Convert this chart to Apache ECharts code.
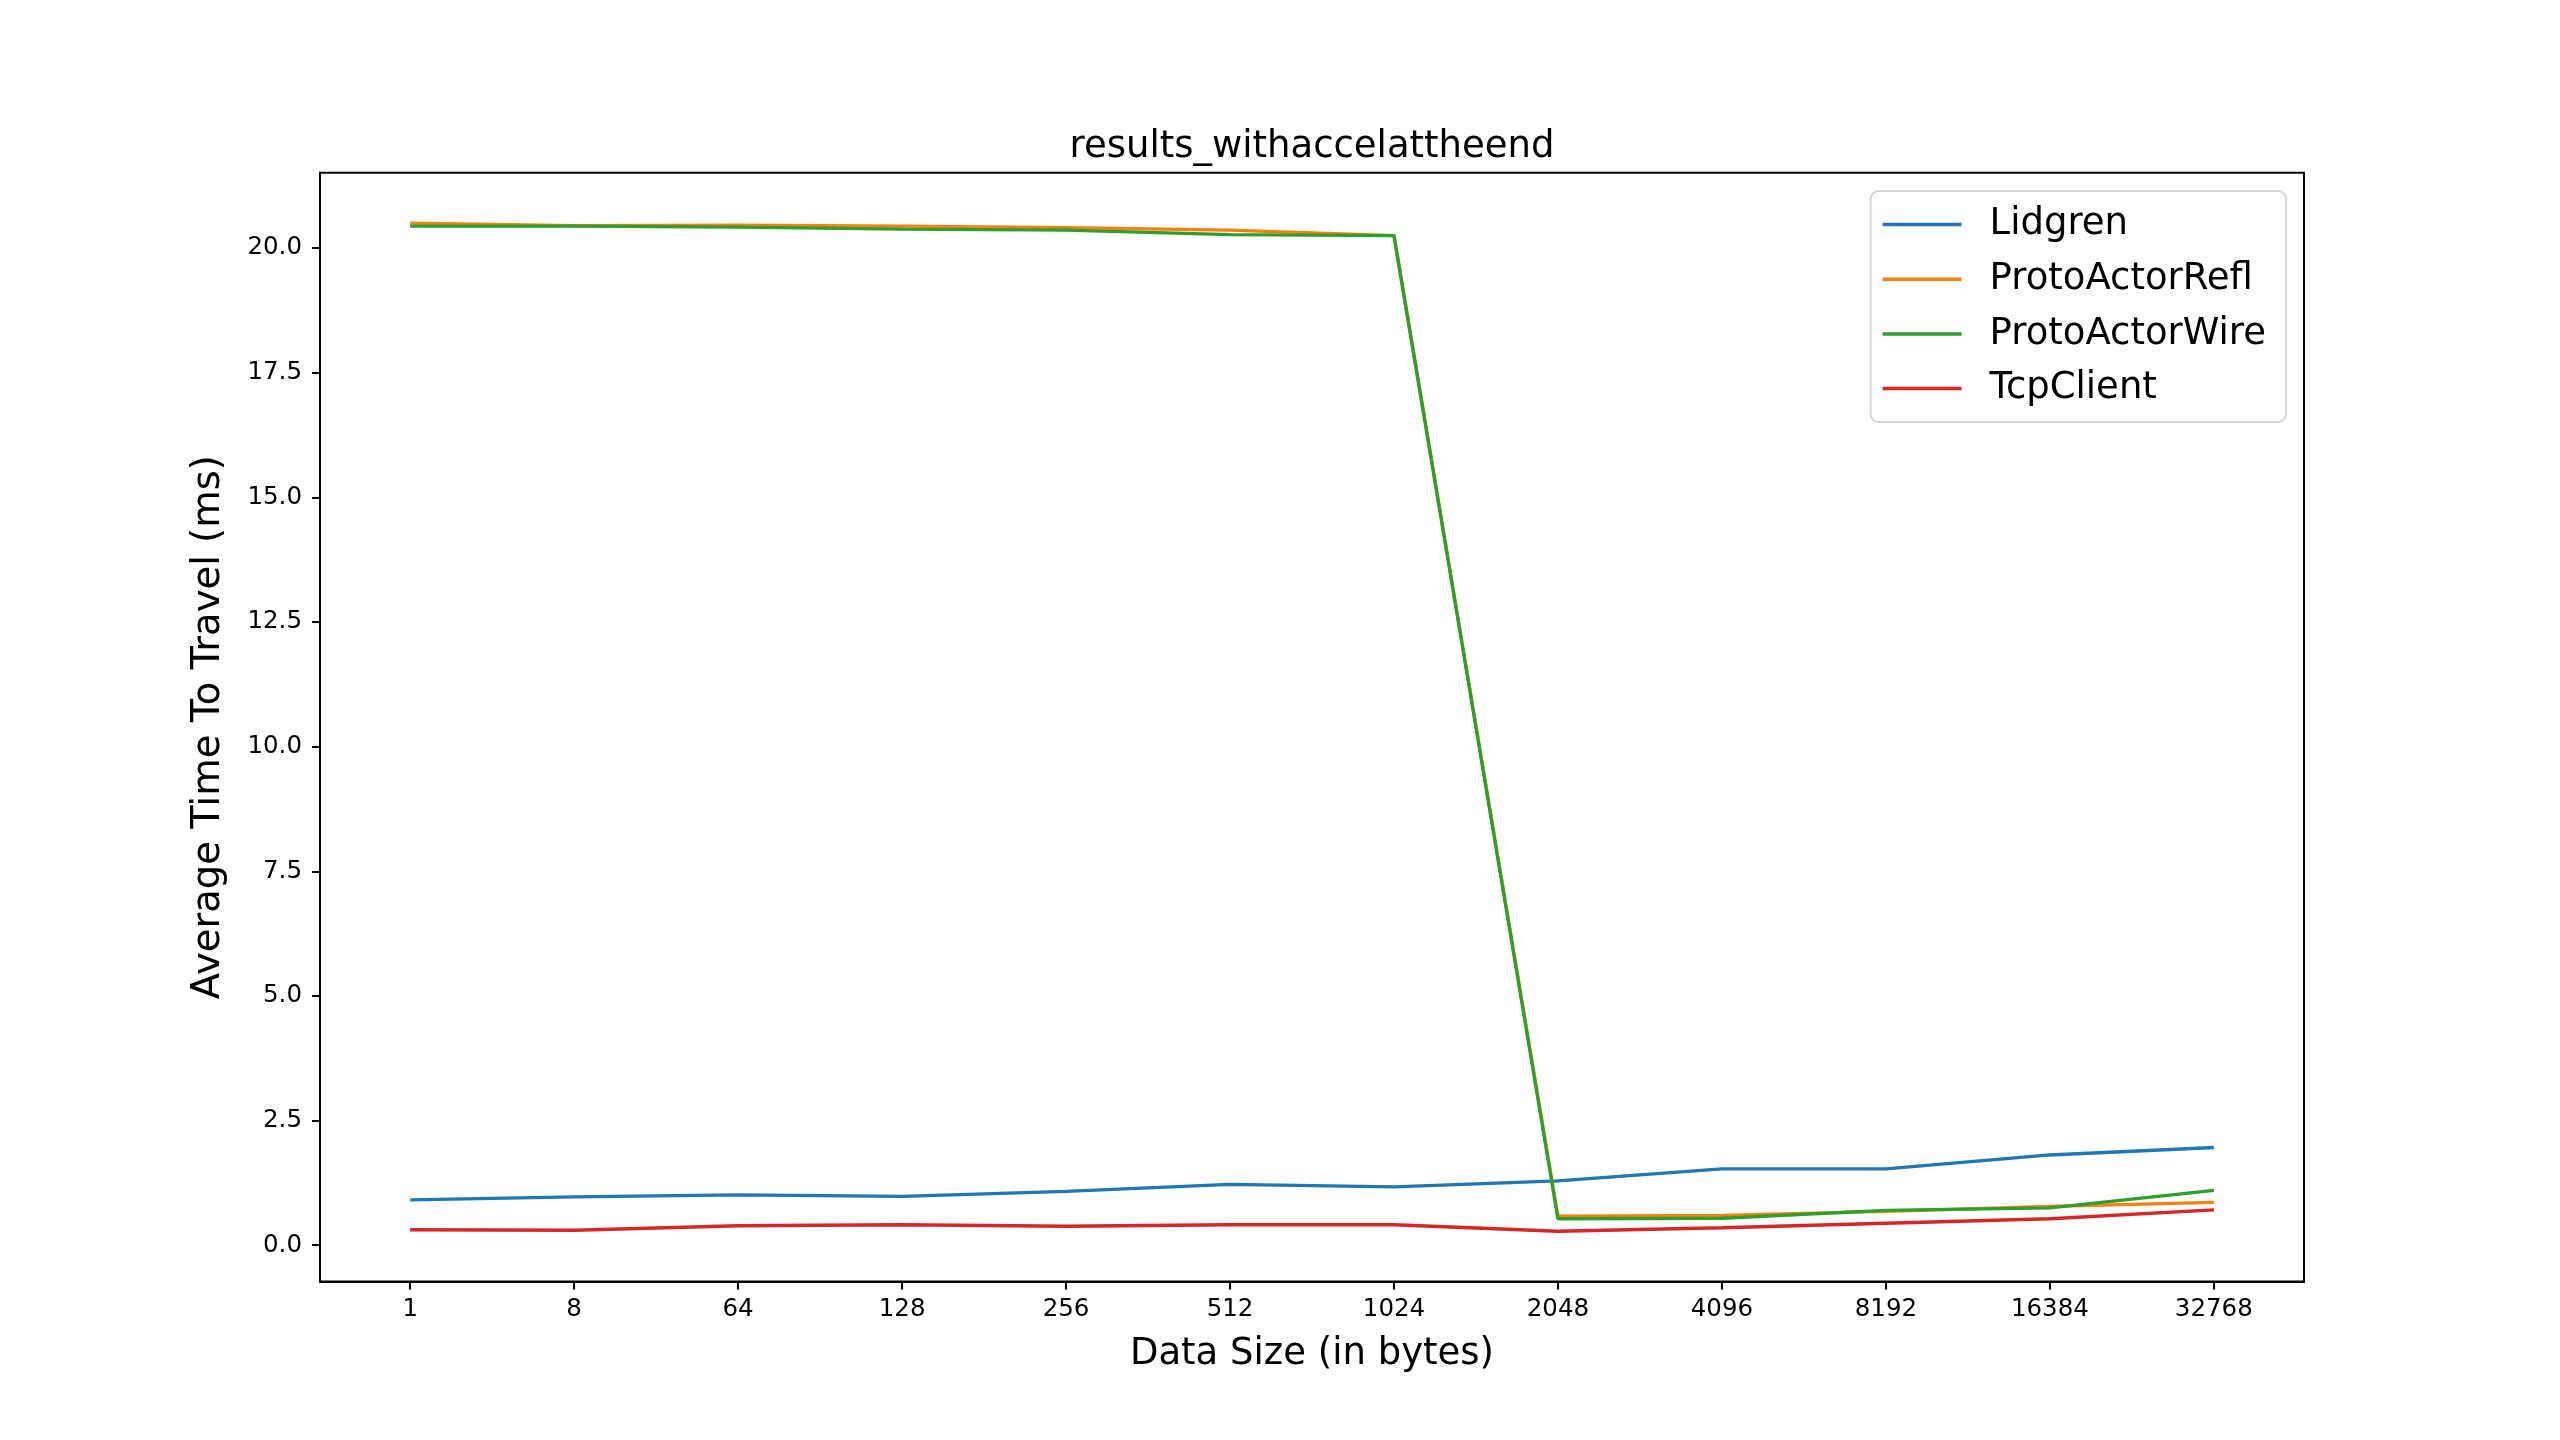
<!DOCTYPE html>
<html>
<head>
<meta charset="utf-8">
<script src="https://cdn.jsdelivr.net/npm/echarts@6/dist/echarts.min.js"></script>
<style>
html,body{margin:0;padding:0;background:#fff;}
#chart{width:2560px;height:1440px;}
</style>
</head>
<body>
<div id="chart"></div>
<script>
var categories = ['1','8','64','128','256','512','1024','2048','4096','8192','16384','32768'];
var lidgren       = [0.91, 0.97, 1.01, 0.98, 1.08, 1.22, 1.17, 1.29, 1.53, 1.53, 1.81, 1.96];
var protoActorRefl = [20.50, 20.45, 20.46, 20.44, 20.41, 20.36, 20.25, 0.58, 0.60, 0.68, 0.78, 0.86];
var protoActorWire = [20.44, 20.44, 20.42, 20.38, 20.36, 20.27, 20.25, 0.53, 0.54, 0.70, 0.75, 1.10];
var tcpClient     = [0.31, 0.30, 0.39, 0.41, 0.38, 0.41, 0.41, 0.28, 0.35, 0.44, 0.53, 0.71];
var seriesNames = ['Lidgren','ProtoActorRefl','ProtoActorWire','TcpClient'];
var yTicks = [0, 2.5, 5, 7.5, 10, 12.5, 15, 17.5, 20];
var xTicks = categories.map(function(c, i){ return i; });

var colors = ['#1f77b4','#ff7f0e','#2ca02c','#d62728'];
var allSeries = [lidgren, protoActorRefl, protoActorWire, tcpClient];
var FONT = 'DejaVu Sans';

var chart = echarts.init(document.getElementById('chart'), null, {renderer:'canvas'});
chart.setOption({
  animation: false,
  backgroundColor: '#ffffff',
  title: {
    text: 'results_withaccelattheend',
    left: 1312,
    top: 129,
    padding: 0,
    textAlign: 'center',
    textStyle: {fontFamily: FONT, fontSize: 37, fontWeight: 'normal', color: '#000', lineHeight: 37}
  },
  legend: {
    data: seriesNames,
    orient: 'vertical',
    right: 274,
    top: 191,
    padding: [15, 20, 15, 12],
    itemGap: 17.7,
    itemWidth: 79,
    itemHeight: 3.5,
    icon: 'rect',
    backgroundColor: 'rgba(255,255,255,0.8)',
    borderColor: '#d6d6d6',
    borderWidth: 2,
    borderRadius: 8,
    textStyle: {fontFamily: FONT, fontSize: 37, color: '#000', lineHeight: 37, padding: [0,0,0,23]}
  },
  grid: {
    left: 320, right: 256, top: 172.8, bottom: 158.4,
    show: true, borderColor: '#000', borderWidth: 2, backgroundColor: 'transparent'
  },
  xAxis: {
    type: 'value',
    min: -0.55, max: 11.55,
    name: 'Data Size (in bytes)',
    nameLocation: 'middle',
    nameGap: 54,
    nameTextStyle: {fontFamily: FONT, fontSize: 37, color: '#000', lineHeight: 37},
    axisLine: {show: true, onZero: false, lineStyle: {color: '#000', width: 2}},
    axisTick: {show: true, length: 8, inside: false, customValues: xTicks, lineStyle: {color: '#000', width: 2}},
    axisLabel: {show: true, margin: 16, customValues: xTicks, fontFamily: FONT, fontSize: 24.5, color: '#000',
      formatter: function(v){ return categories[Math.round(v)]; }},
    splitLine: {show: false}
  },
  yAxis: {
    type: 'value',
    min: -0.73, max: 21.51,
    name: 'Average Time To Travel (ms)',
    nameLocation: 'middle',
    nameRotate: 90,
    nameGap: 92,
    nameTextStyle: {fontFamily: FONT, fontSize: 38.5, color: '#000', lineHeight: 38},
    axisLine: {show: true, onZero: false, lineStyle: {color: '#000', width: 2}},
    axisTick: {show: true, length: 8, inside: false, customValues: yTicks, lineStyle: {color: '#000', width: 2}},
    axisLabel: {show: true, margin: 18, customValues: yTicks, fontFamily: FONT, fontSize: 24.5, color: '#000',
      formatter: function(v){ return v.toFixed(1); }},
    splitLine: {show: false}
  },
  series: seriesNames.map(function(name, k){
    return {
      name: name,
      type: 'line',
      data: categories.map(function(c, i){ return [i, allSeries[k][i]]; }),
      showSymbol: false,
      symbol: 'none',
      smooth: false,
      lineStyle: {color: colors[k], width: 3.33},
      itemStyle: {color: colors[k]},
      z: 2 + k
    };
  })
});
</script>
</body>
</html>
